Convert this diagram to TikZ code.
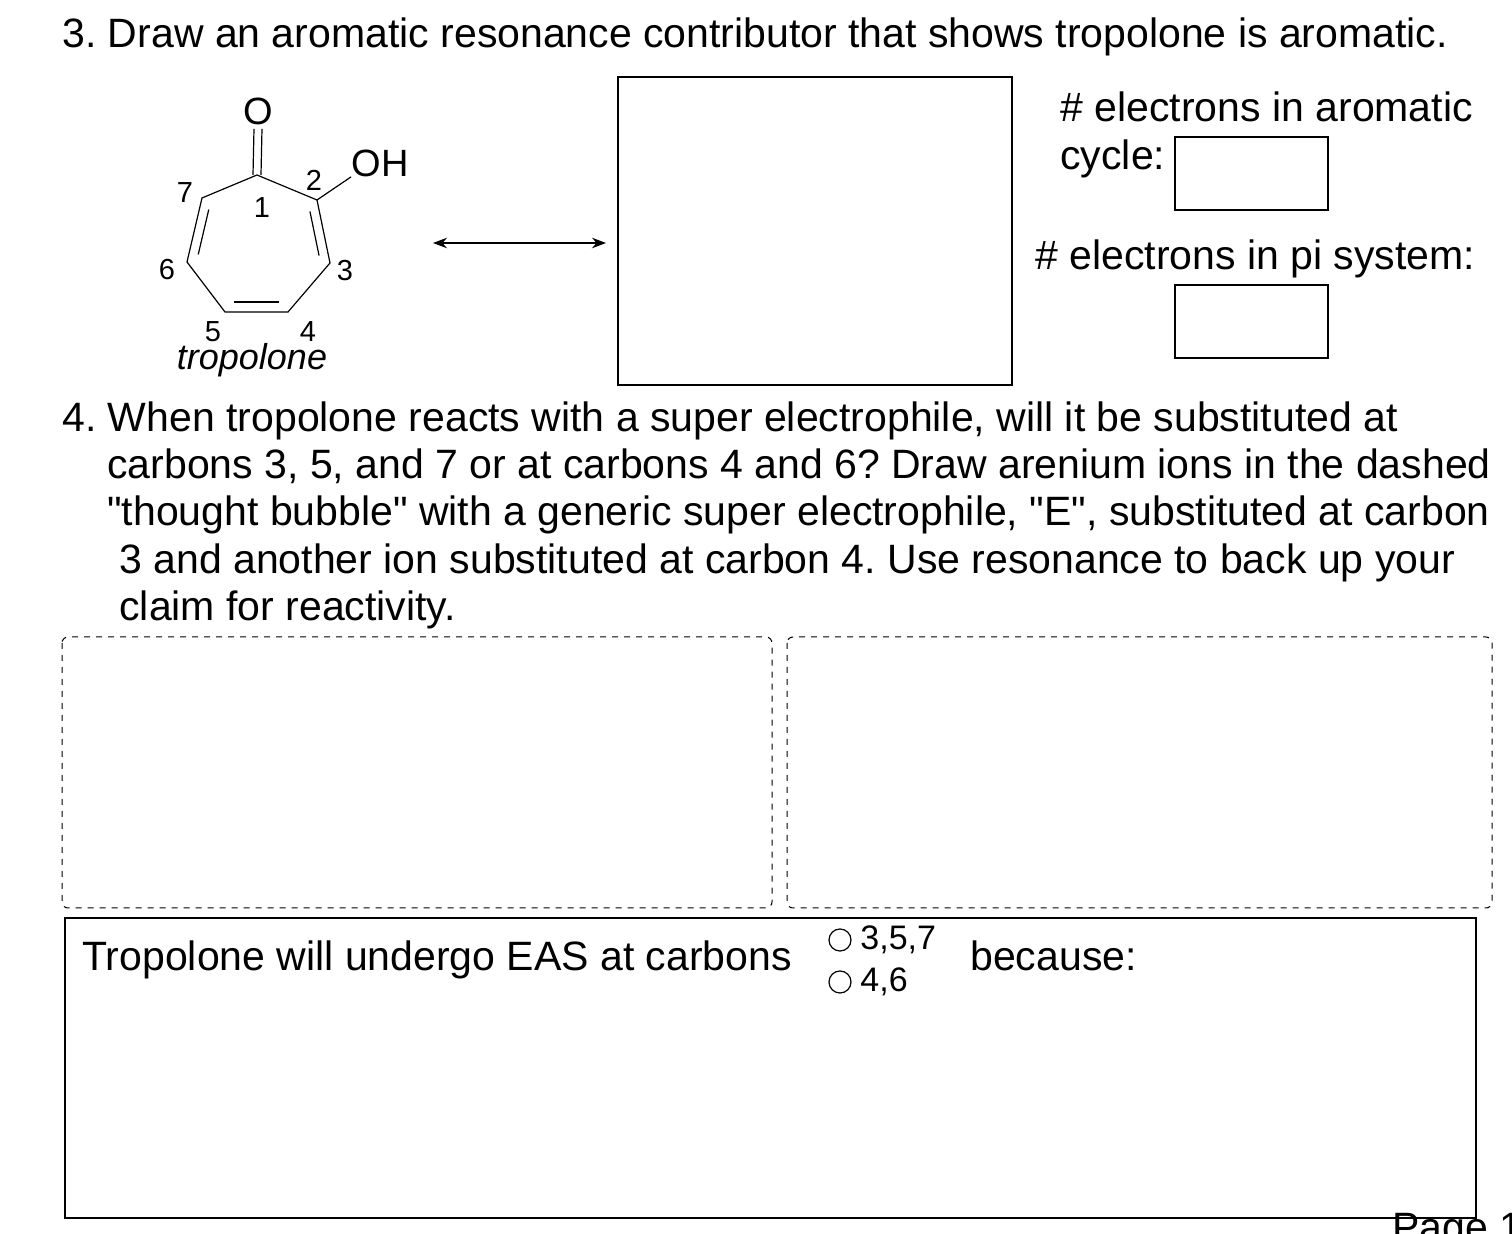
\documentclass[tikz,border=0pt]{standalone}
\usepackage{fontspec}
\setmainfont{Liberation Sans}[Ligatures=TeXOff]
\usetikzlibrary{arrows.meta,positioning,calc}
\tikzset
{
    txt/.style      = {anchor=base west, inner sep=0pt, font=\fontsize{20.5}{24}\selectfont\frenchspacing},
    num/.style      = {inner sep=0pt, font=\fontsize{14.5}{16}\selectfont},
    answerbox/.style = {draw=black, line width=0.6pt},
    bubble/.style   = {draw=black, dashed, line width=0.5pt, rounded corners=3pt},
    bond/.style     = {line width=0.6pt}
}
\begin{document}
\begin{tikzpicture}[x=0.5pt, y=-0.5pt]
\useasboundingbox (0,0) rectangle (1512,1234);
\clip (0,0) rectangle (1512,1234);

\node (q3)[txt] at (62,48) {3. Draw an aromatic resonance contributor that shows tropolone is aromatic.};

% tropolone ring
\coordinate (c1) at (257,175);
\coordinate (c2) at (317,200);
\coordinate (c3) at (330,263);
\coordinate (c4) at (288,312);
\coordinate (c5) at (225,312);
\coordinate (c6) at (187,262);
\coordinate (c7) at (202,198);
\draw[bond] (c1) -- (c2) -- (c3) -- (c4) -- (c5) -- (c6) -- (c7) -- cycle;
\draw[bond] ($(c2)!0.15!(c3)+(-9,2)$) -- ($(c2)!0.85!(c3)+(-9,2)$);
\draw[bond] ($(c7)!0.15!(c6)+(9,2)$) -- ($(c7)!0.85!(c6)+(9,2)$);
\draw[bond] ($(c5)!0.15!(c4)+(0,-10)$) -- ($(c5)!0.85!(c4)+(0,-10)$);
\node (o)[num, font=\fontsize{19}{22}\selectfont] at (258,111) {O};
\draw[bond] ($(c1)+(-4,0)$) -- ($(o.south)+(-4,4)$);
\draw[bond] ($(c1)+(4,0)$) -- ($(o.south)+(4,4)$);
\node (oh)[num, font=\fontsize{19}{22}\selectfont] at (380,163) {OH};
\draw[bond] (c2) -- (oh.south west);
\node (n1)[num] at (262,208) {1};
\node (n2)[num] at (314,180) {2};
\node (n3)[num] at (345,271) {3};
\node (n4)[num] at (308,332) {4};
\node (n5)[num] at (213,332) {5};
\node (n6)[num] at (167,270) {6};
\node (n7)[num] at (185,193) {7};
\node (name)[num, font=\fontsize{18}{20}\selectfont\itshape] at (252,360) {tropolone};

\coordinate (al) at (433,243);
\coordinate (ar) at (606,243);
\draw[{Stealth[length=7pt]}-{Stealth[length=7pt]}, line width=0.6pt] (al) -- (ar);
\draw[answerbox] (618,77) rectangle (1012,385);

\node (ea)[txt] at (1060,122) {\# electrons in aromatic};
\node (ec)[txt] at (1060,170) {cycle:};
\draw[answerbox] (1175,137) rectangle (1328,210);
\node (ep)[txt] at (1035,270) {\# electrons in pi system:};
\draw[answerbox] (1175,285) rectangle (1328,358);

\node (q4a)[txt] at (62,432) {4. When tropolone reacts with a super electrophile, will it be substituted at};
\node (q4b)[txt] at (107,479) {carbons 3, 5, and 7 or at carbons 4 and 6? Draw arenium ions in the dashed};
\node (q4c)[txt] at (107,526) {"thought bubble" with a generic super electrophile, "E", substituted at carbon};
\node (q4d)[txt] at (119,574) {3 and another ion substituted at carbon 4. Use resonance to back up your};
\node (q4e)[txt] at (119,621) {claim for reactivity.};

\draw[bubble] (62,637) rectangle (772,908);
\draw[bubble] (787,637) rectangle (1492,908);

\draw[answerbox] (65,918) rectangle (1476,1218);
\node (eas)[txt] at (82,971) {Tropolone will undergo EAS at carbons};
\draw[line width=0.6pt] (840,940) circle (11);
\draw[line width=0.6pt] (840,982) circle (11);
\node (o357)[num, font=\fontsize{17}{19}\selectfont, anchor=west] at (860,940) {3,5,7};
\node (o46)[num, font=\fontsize{17}{19}\selectfont, anchor=west] at (860,982) {4,6};
\node (bec)[txt] at (970,971) {because:};
\node (page)[txt] at (1392,1242) {Page 1};
\end{tikzpicture}
\end{document}
